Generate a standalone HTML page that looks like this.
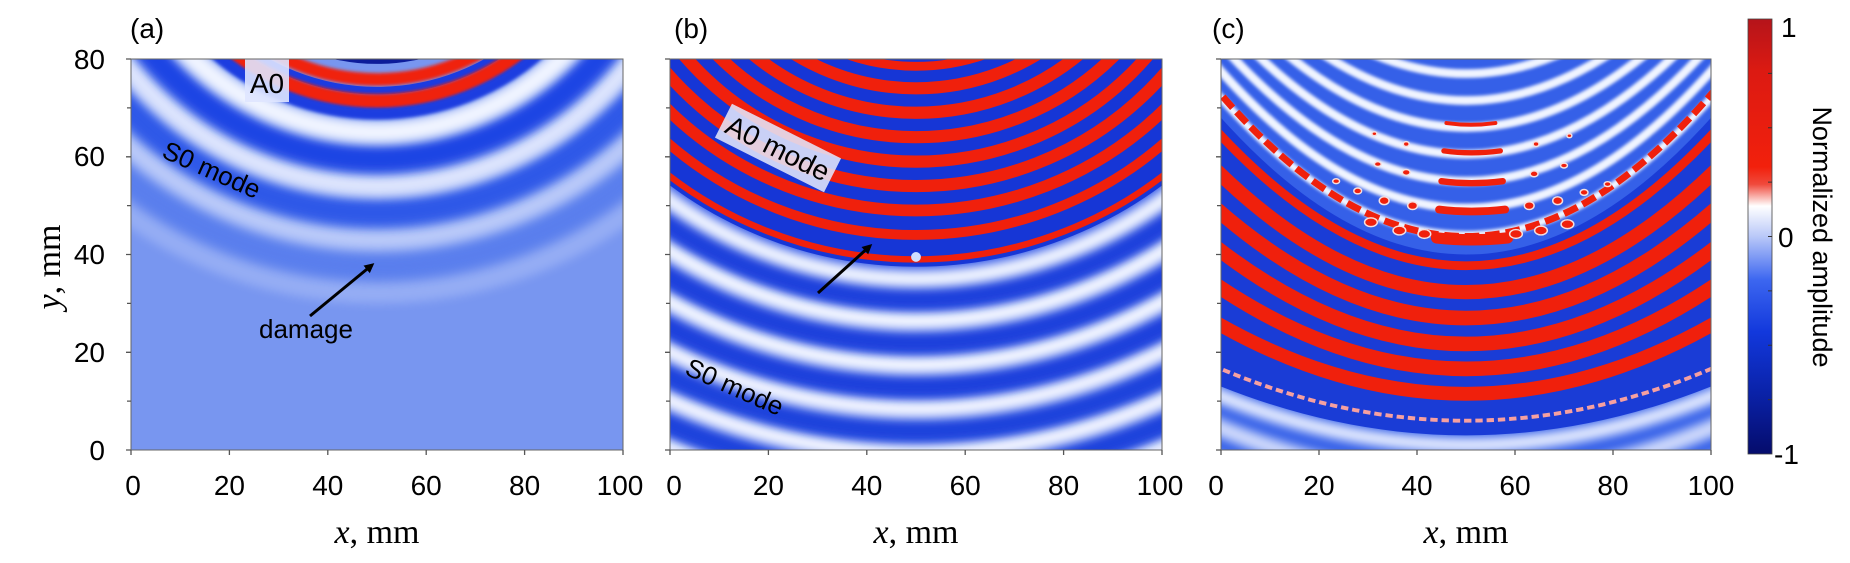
<!DOCTYPE html>
<html><head><meta charset="utf-8"><style>
html,body{margin:0;padding:0;background:#fff;}
svg{display:block;}
text{font-family:"Liberation Sans",sans-serif;fill:#000;}
.ser{font-family:"Liberation Serif",serif;}
</style></head><body>
<svg width="1850" height="563" viewBox="0 0 1850 563" xmlns="http://www.w3.org/2000/svg">
<defs>
<filter id="bl" x="-30%" y="-30%" width="160%" height="160%"><feGaussianBlur stdDeviation="1.0"/></filter>
<filter id="bl2" x="-30%" y="-30%" width="160%" height="160%"><feGaussianBlur stdDeviation="0.35"/></filter>
<clipPath id="ca"><rect x="131" y="59" width="492" height="391"/></clipPath>
<clipPath id="cb"><rect x="670" y="59" width="492" height="391"/></clipPath>
<clipPath id="cc"><rect x="1221" y="59" width="490" height="391"/></clipPath>
<linearGradient id="cbar" x1="0" y1="0" x2="0" y2="1">
<stop offset="0" stop-color="#b5141a"/><stop offset="0.12" stop-color="#dc1a12"/>
<stop offset="0.34" stop-color="#f2200c"/><stop offset="0.38" stop-color="#f04a3c"/>
<stop offset="0.43" stop-color="#ffffff"/><stop offset="0.5" stop-color="#b9c8f8"/>
<stop offset="0.6" stop-color="#3c66f0"/><stop offset="0.72" stop-color="#1238dc"/>
<stop offset="0.86" stop-color="#0a22a8"/><stop offset="1" stop-color="#050c6c"/>
</linearGradient>
<marker id="ah" markerWidth="10" markerHeight="10" refX="7" refY="5" orient="auto" markerUnits="userSpaceOnUse"><path d="M0,0 L10,5 L0,10 z" fill="#000"/></marker>
</defs>

<!-- Panel A -->
<g clip-path="url(#ca)">
<rect x="131" y="59" width="492" height="391" fill="#7896f0"/>
<g transform="translate(131,450) scale(4.92,-4.8875)" fill="none">
<circle cx="50" cy="119" r="87" stroke="#d8e2ff" stroke-width="4" opacity="0.3" filter="url(#bl)"/>
<circle cx="50" cy="119" r="81.5" stroke="#4d74ec" stroke-width="5" opacity="0.7" filter="url(#bl)"/>
<circle cx="50" cy="119" r="76" stroke="#e4ebff" stroke-width="4" opacity="0.6" filter="url(#bl)"/>
<circle cx="50" cy="119" r="70.5" stroke="#2f58e8" stroke-width="5.5" filter="url(#bl)"/>
<circle cx="50" cy="119" r="65" stroke="#eef2ff" stroke-width="4.5" opacity="0.85" filter="url(#bl)"/>
<circle cx="50" cy="119" r="59.5" stroke="#1f45e4" stroke-width="5.5" filter="url(#bl)"/>
<circle cx="50" cy="119" r="54" stroke="#f0f4ff" stroke-width="4.5" filter="url(#bl)"/>
<circle cx="50" cy="119" r="48.5" stroke="#1a3ee0" stroke-width="4" filter="url(#bl2)"/>
<circle cx="50" cy="119" r="40" fill="#0d1c9a" stroke="none"/>
<circle cx="50" cy="119" r="43.2" stroke="#f0200c" stroke-width="2.6" filter="url(#bl2)"/>
<circle cx="50" cy="119" r="45.5" stroke="#1b3be0" stroke-width="1.6"/>
<circle cx="50" cy="119" r="47.6" stroke="#f0200c" stroke-width="2.9" filter="url(#bl2)"/>
<circle cx="50" cy="119" r="50.3" stroke="#1a3ee0" stroke-width="2.2" filter="url(#bl2)"/>
</g>
<rect x="245" y="59" width="44" height="43" fill="#dfe6ff" opacity="0.9"/>
</g>
<rect x="131" y="59" width="492" height="391" fill="none" stroke="#666" stroke-width="1"/>

<!-- Panel B -->
<g clip-path="url(#cb)">
<rect x="670" y="59" width="492" height="391" fill="#3a5ee8"/>
<g transform="translate(670,450) scale(4.92,-4.8875)" fill="none">
<circle cx="50" cy="121" r="135" stroke="#1c42dc" stroke-width="4.5" filter="url(#bl)"/>
<circle cx="50" cy="121" r="130.5" stroke="#e8eeff" stroke-width="4" filter="url(#bl)"/>
<circle cx="50" cy="121" r="126" stroke="#1c42dc" stroke-width="4.5" filter="url(#bl)"/>
<circle cx="50" cy="121" r="121.5" stroke="#eef2ff" stroke-width="4" filter="url(#bl)"/>
<circle cx="50" cy="121" r="117" stroke="#1c42dc" stroke-width="4.5" filter="url(#bl)"/>
<circle cx="50" cy="121" r="112.5" stroke="#eef2ff" stroke-width="4" filter="url(#bl)"/>
<circle cx="50" cy="121" r="108" stroke="#1a40dc" stroke-width="4.5" filter="url(#bl)"/>
<circle cx="50" cy="121" r="103.5" stroke="#f0f4ff" stroke-width="4" filter="url(#bl)"/>
<circle cx="50" cy="121" r="99" stroke="#1a40dc" stroke-width="4.5" filter="url(#bl)"/>
<circle cx="50" cy="121" r="94.5" stroke="#f0f4ff" stroke-width="4" filter="url(#bl)"/>
<circle cx="50" cy="121" r="90" stroke="#1a40dc" stroke-width="4.5" filter="url(#bl)"/>
<circle cx="50" cy="121" r="86" stroke="#f0f4ff" stroke-width="3.5" filter="url(#bl)"/>
<circle cx="50" cy="121" r="83.5" fill="#1636d6" stroke="none"/>
<circle cx="50" cy="121" r="41" fill="#f4d0d0" stroke="none"/>
<circle cx="50" cy="121" r="82" stroke="#f0200c" stroke-width="1.3"/>
<circle cx="50" cy="121" r="77" stroke="#f0200c" stroke-width="2.0"/>
<circle cx="50" cy="121" r="72" stroke="#f0200c" stroke-width="2.4"/>
<circle cx="50" cy="121" r="67" stroke="#f0200c" stroke-width="2.5"/>
<circle cx="50" cy="121" r="62" stroke="#f0200c" stroke-width="2.5"/>
<circle cx="50" cy="121" r="57" stroke="#f0200c" stroke-width="2.5"/>
<circle cx="50" cy="121" r="52" stroke="#f0200c" stroke-width="2.5"/>
<circle cx="50" cy="121" r="47" stroke="#f0200c" stroke-width="2.5"/>
<circle cx="50" cy="121" r="42.5" stroke="#f0200c" stroke-width="1.8"/>
<circle cx="50" cy="39.5" r="1" fill="#cfe0ff" stroke="none"/>
</g>
</g>
<rect x="670" y="59" width="492" height="391" fill="none" stroke="#666" stroke-width="1"/>

<!-- Panel C -->
<g clip-path="url(#cc)">
<rect x="1221" y="59" width="490" height="391" fill="#3560e8"/>
<g transform="translate(1221,450) scale(4.9,-4.8875)" fill="none">
<path d="M-10,15.4 Q50,-13.4 110,15.4" stroke="#e4ebff" stroke-width="3" filter="url(#bl)"/>
<path d="M-10,9 Q50,-21 110,9" stroke="#e8eeff" stroke-width="3.5" filter="url(#bl)" opacity="0.85"/>
<path d="M-10,2 Q50,-29 110,2" stroke="#e8eeff" stroke-width="3.5" filter="url(#bl)" opacity="0.8"/>
<path d="M-10,117.3 Q50,36.7 110,117.3" stroke="#f0f4ff" stroke-width="1.8" filter="url(#bl2)"/>
<path d="M-10,111.8 Q50,31.2 110,111.8" stroke="#f0f4ff" stroke-width="1.8" filter="url(#bl2)"/>
<path d="M-10,106.3 Q50,25.7 110,106.3" stroke="#f0f4ff" stroke-width="1.8" filter="url(#bl2)"/>
<path d="M-10,100.8 Q50,20.2 110,100.8" stroke="#f0f4ff" stroke-width="1.8" filter="url(#bl2)"/>
<path d="M-10,95.3 Q50,14.7 110,95.3" stroke="#f0f4ff" stroke-width="1.8" filter="url(#bl2)"/>
<path d="M-10,89.8 Q50,9.2 110,89.8" stroke="#f0f4ff" stroke-width="1.8" filter="url(#bl2)"/>
<path d="M-10,84.3 Q50,3.7 110,84.3" stroke="#f0f4ff" stroke-width="1.6" filter="url(#bl2)"/>
<path d="M-10,80.3 Q50,-0.3 110,80.3 L110,17.4 Q50,-11.4 -10,17.4 z" fill="#1a3cd6" stroke="none"/>
<path d="M-10,21.26 Q50,-9.26 110,21.26" stroke="#f6a0a0" stroke-width="0.8" stroke-dasharray="1.5,0.8"/>
<path d="M-10,31.66 Q50,-8.66 110,31.66" stroke="#f0200c" stroke-width="2.8"/>
<path d="M-10,40.36 Q50,-7.16 110,40.36" stroke="#f0200c" stroke-width="3.0"/>
<path d="M-10,49.06 Q50,-5.66 110,49.06" stroke="#f0200c" stroke-width="3.0"/>
<path d="M-10,57.96 Q50,-3.96 110,57.96" stroke="#f0200c" stroke-width="3.0"/>
<path d="M-10,66.86 Q50,-2.26 110,66.86" stroke="#f0200c" stroke-width="2.9"/>
<path d="M-10,76.0 Q50,-0.6 110,76.0" stroke="#f0200c" stroke-width="1.8"/>
<path d="M-10,85.5 Q50,1.9 110,85.5" stroke="#f0200c" stroke-width="1.4" stroke-dasharray="3,1.2"/>
<g stroke="#f0200c" stroke-linecap="round">
<path d="M44,43.4 Q51,42.6 58.5,43.4" stroke-width="2.3"/>
<path d="M44.5,49.2 Q51,48.4 58,49.2" stroke-width="1.6"/>
<path d="M45,55 Q51,54.2 57.5,55" stroke-width="1.3"/>
<path d="M45.5,61.2 Q51,60.4 57,61.2" stroke-width="1.1"/>
<path d="M46,66.9 Q51,66.2 56,66.9" stroke-width="0.8"/>
</g>
<g fill="#f0200c" stroke="#f4e0e0" stroke-width="0.3">
<ellipse cx="36.4" cy="44.9" rx="1.3" ry="0.9"/><ellipse cx="41.5" cy="44.2" rx="1.3" ry="0.9"/>
<ellipse cx="30.6" cy="46.6" rx="1.3" ry="0.9"/><ellipse cx="60.2" cy="44.2" rx="1.3" ry="0.9"/>
<ellipse cx="65.3" cy="44.9" rx="1.3" ry="0.9"/><ellipse cx="70.7" cy="46.2" rx="1.3" ry="0.9"/>
<ellipse cx="33.3" cy="51" rx="1" ry="0.8"/><ellipse cx="39.1" cy="50" rx="1" ry="0.8"/>
<ellipse cx="62.9" cy="50" rx="1" ry="0.8"/><ellipse cx="68.7" cy="51" rx="1" ry="0.8"/>
<ellipse cx="27.9" cy="53" rx="0.8" ry="0.6"/><ellipse cx="74.1" cy="52.7" rx="0.8" ry="0.6"/>
<ellipse cx="37.8" cy="56.8" rx="0.8" ry="0.6"/><ellipse cx="63.9" cy="56.5" rx="0.8" ry="0.6"/>
<ellipse cx="32" cy="58.5" rx="0.7" ry="0.5"/><ellipse cx="70" cy="58.2" rx="0.7" ry="0.5"/>
<ellipse cx="23.5" cy="55" rx="0.7" ry="0.5"/><ellipse cx="78.9" cy="54.4" rx="0.7" ry="0.5"/>
<ellipse cx="37.8" cy="62.6" rx="0.6" ry="0.5"/><ellipse cx="64.3" cy="62.6" rx="0.6" ry="0.5"/>
<ellipse cx="31.3" cy="64.7" rx="0.5" ry="0.4"/><ellipse cx="71.1" cy="64.3" rx="0.5" ry="0.4"/>
</g>
</g>
</g>
<rect x="1221" y="59" width="490" height="391" fill="none" stroke="#666" stroke-width="1"/>

<!-- Ticks -->
<g stroke="#555" stroke-width="1.3">
<path d="M131,450v5M229.4,450v5M327.8,450v5M426.2,450v5M524.6,450v5M623,450v5"/>
<path d="M670,450v5M768.4,450v5M866.8,450v5M965.2,450v5M1063.6,450v5M1162,450v5"/>
<path d="M1221,450v5M1319,450v5M1417,450v5M1515,450v5M1613,450v5M1711,450v5"/>
<path d="M131,59h-5M131,107.9h-4M131,156.8h-5M131,205.6h-4M131,254.5h-5M131,303.4h-4M131,352.3h-5M131,401.1h-4M131,450h-5"/>
<path d="M670,59h-5M670,107.9h-4M670,156.8h-5M670,205.6h-4M670,254.5h-5M670,303.4h-4M670,352.3h-5M670,401.1h-4M670,450h-5"/>
<path d="M1221,59h-5M1221,107.9h-4M1221,156.8h-5M1221,205.6h-4M1221,254.5h-5M1221,303.4h-4M1221,352.3h-5M1221,401.1h-4M1221,450h-5"/>
</g>

<!-- Tick labels -->
<g font-size="28" text-anchor="middle">
<text x="133" y="495">0</text><text x="229.4" y="495">20</text><text x="327.8" y="495">40</text><text x="426.2" y="495">60</text><text x="524.6" y="495">80</text><text x="620" y="495">100</text>
<text x="674" y="495">0</text><text x="768.4" y="495">20</text><text x="866.8" y="495">40</text><text x="965.2" y="495">60</text><text x="1063.6" y="495">80</text><text x="1160" y="495">100</text>
<text x="1216" y="495">0</text><text x="1319" y="495">20</text><text x="1417" y="495">40</text><text x="1515" y="495">60</text><text x="1613" y="495">80</text><text x="1711" y="495">100</text>
</g>
<g font-size="28" text-anchor="end">
<text x="105" y="69">80</text><text x="105" y="166">60</text><text x="105" y="264">40</text><text x="105" y="362">20</text><text x="105" y="460">0</text>
</g>

<!-- Axis labels -->
<g font-size="34" class="ser" text-anchor="middle">
<text class="ser" x="377" y="543"><tspan font-style="italic">x</tspan>, mm</text>
<text class="ser" x="916" y="543"><tspan font-style="italic">x</tspan>, mm</text>
<text class="ser" x="1466" y="543"><tspan font-style="italic">x</tspan>, mm</text>
<text class="ser" transform="translate(60,267) rotate(-90)"><tspan font-style="italic">y</tspan>, mm</text>
</g>

<!-- Panel letters -->
<g font-size="28">
<text x="130" y="38">(a)</text><text x="674" y="38">(b)</text><text x="1212" y="38">(c)</text>
</g>

<!-- Annotations -->
<text x="267" y="93" font-size="28" text-anchor="middle">A0</text>
<text font-size="26" text-anchor="middle" transform="translate(208,178) rotate(24)">S0 mode</text>
<text x="306" y="338" font-size="26" text-anchor="middle">damage</text>
<line x1="310" y1="316" x2="372" y2="265" stroke="#000" stroke-width="3" marker-end="url(#ah)"/>
<g transform="translate(778,148) rotate(26.6)">
<rect x="-61" y="-19" width="122" height="38" fill="#e2e6fb" opacity="0.88"/>
<text x="0" y="10" font-size="28" text-anchor="middle">A0 mode</text>
</g>
<text font-size="26" text-anchor="middle" transform="translate(731,395) rotate(24)">S0 mode</text>
<line x1="818" y1="293" x2="870" y2="246" stroke="#000" stroke-width="3" marker-end="url(#ah)"/>

<!-- Colorbar -->
<rect x="1748" y="19" width="24" height="435" fill="url(#cbar)" stroke="#444" stroke-width="0.8"/>
<g stroke="#333" stroke-width="1">
<path d="M1772,73.4h-4M1772,127.8h-4M1772,182.1h-4M1772,236.5h-4M1772,290.9h-4M1772,345.3h-4M1772,399.6h-4"/>
</g>
<g font-size="28">
<text x="1781" y="37">1</text><text x="1778" y="247">0</text><text x="1774" y="464">-1</text>
</g>
<text font-size="27" text-anchor="middle" transform="translate(1813,237) rotate(90)">Normalized amplitude</text>
</svg>
</body></html>
